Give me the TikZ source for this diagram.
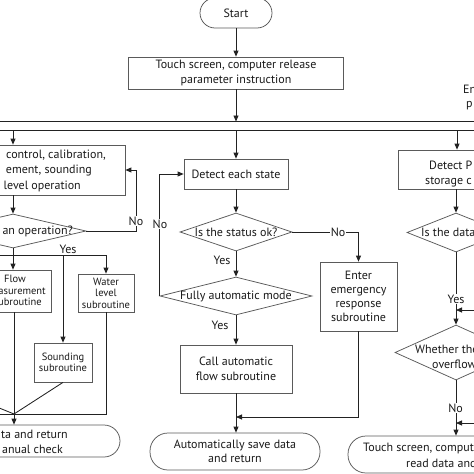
\documentclass[tikz,border=0pt]{standalone}
\usepackage{fontspec}
\setmainfont{PT Sans}
\usetikzlibrary{arrows.meta,shapes.geometric}
\definecolor{boxc}{HTML}{5A5A5A}
\definecolor{linec}{HTML}{222222}
\definecolor{txtc}{HTML}{1A1A1A}
\begin{document}
\begin{tikzpicture}[x=1pt,y=-1pt,
  every node/.style={text=txtc},
  box/.style={draw=boxc,line width=0.75pt,fill=white,align=center,inner sep=0pt},
  term/.style={box,rounded corners=#1},
  dia/.style={diamond,draw=boxc,line width=0.75pt,fill=white,inner sep=0pt},
  txt/.style={inner sep=0pt,font=\fontsize{12}{15.5}\selectfont},
  mtxt/.style={inner sep=0pt,font=\fontsize{12}{14}\selectfont},
  stxt/.style={inner sep=0pt,font=\fontsize{10.5}{11.5}\selectfont},
  lab/.style={fill=white,inner sep=1pt,font=\fontsize{12}{14}\selectfont},
  con/.style={draw=linec,line width=0.85pt},
  arr/.style={con,-{Triangle[length=6pt,width=5pt]}}]
\useasboundingbox (0,0) rectangle (474,474);
\clip (0,0) rectangle (474,474);
% top
\node[term=15,minimum width=72pt,minimum height=30pt,txt] (start) at (236,13) {Start};
\node[box,minimum width=215pt,minimum height=32pt,txt] (t1) at (236,73) {Touch screen, computer release\\parameter instruction};
\coordinate (bus1) at (236,121.5);
\draw[con] (0,121.5) coordinate (busl) -- (474,121.5) coordinate (busr);
\draw[con] (0,130) coordinate (bus2l) -- (474,130) coordinate (bus2r);
\draw[arr] (start) -- (t1);
\draw[arr] (t1) -- (bus1);
\node[txt,anchor=west] (en) at (463,89) {En};
\node[txt,anchor=west] (pp) at (466,106) {p};
\coordinate (b1) at (13,130);
\coordinate (b2) at (236,130);
\coordinate (b3) at (457,130);
% left column
\node[box,minimum width=185pt,minimum height=50pt] (lb) at (32.5,170) {};
\node[txt,anchor=east] (lbt1) at (106,155) {control, calibration,};
\node[txt,anchor=east] (lbt2) at (92,171) {ement, sounding};
\node[txt,anchor=east] (lbt3) at (81,186) {level operation};
\node[dia,minimum width=146pt,minimum height=34pt] (ld) at (13,231) {};
\node[txt,anchor=east] (ldt) at (73,231) {an operation?};
\draw[arr] (b1) -- (b1 |- lb.north);
\draw[arr] (ld.north |- lb.south) -- (ld.north);
\draw[arr] (ld.east) -- ++(50,0) |- (lb.east);
\node[lab] (no1) at (136,221) {No};
\node[txt] (yes1) at (68,249) {Yes};
\coordinate (s0) at (13,255);
\coordinate (s1) at (63,255);
\coordinate (s2) at (106,255);
\draw[con] (ld.south) -- (s0);
\draw[con] (0,255) coordinate (sl) -- (s2);
\node[box,minimum width=76pt,minimum height=42pt] (fb) at (13,291) {};
\node[stxt] (fbt1) at (15,279) {Flow};
\node[stxt,anchor=east] (fbt2) at (46,291) {asurement};
\node[stxt,anchor=east] (fbt3) at (42,302) {ubroutine};
\node[box,minimum width=56pt,minimum height=38pt,stxt] (wb) at (106,293) {Water\\level\\subroutine};
\node[box,minimum width=58pt,minimum height=39pt,stxt] (sb) at (63,362.5) {Sounding\\subroutine};
\draw[arr] (s0) -- (fb.north);
\draw[arr] (s2) -- (wb.north);
\draw[arr] (s1) -- (sb.north);
\node[term=16,minimum width=180pt,minimum height=32pt] (lt) at (30,441) {};
\node[txt,anchor=east] (ltt1) at (68,434) {ta and return};
\node[txt,anchor=east] (ltt2) at (63,449) {anual check};
\coordinate (m1) at (14,414);
\draw[con] (fb.south -| m1) -- (m1);
\draw[con] (wb.south) |- (0,414) coordinate (ml);
\draw[con] (sb.south) -- (m1);
\draw[con] (-13,403) coordinate (dl) -- (m1);
\draw[arr] (m1) -- (m1 |- lt.north);
% centre column
\node[box,minimum width=104pt,minimum height=30pt,txt] (ds) at (236,174) {Detect each state};
\node[dia,minimum width=112pt,minimum height=38pt] (sd) at (236,232) {};
\node[txt] (sdt) at (236,232) {Is the status ok?};
\node[dia,minimum width=152pt,minimum height=38pt] (fa) at (236,296) {};
\node[txt] (fat) at (236,296) {Fully automatic mode};
\node[box,minimum width=112pt,minimum height=48pt,txt] (ca) at (236,369) {Call automatic\\flow subroutine};
\node[term=18,minimum width=170pt,minimum height=37pt,mtxt] (ct) at (235,451.5) {Automatically save data\\and return};
\node[box,minimum width=77pt,minimum height=69pt,mtxt] (em) at (358.5,296.5) {Enter\\emergency\\response\\subroutine};
\draw[arr] (b2) -- (ds.north);
\draw[arr] (ds) -- (sd);
\draw[arr] (sd) -- (fa);
\draw[arr] (fa) -- (ca);
\draw[arr] (ca) -- (ca.south |- ct.north);
\draw[arr] (sd.east) -| (em.north);
\node[lab] (no2) at (338,232) {No};
\draw[arr] (fa.west) |- (ds.west);
\node[lab] (no3) at (160,224) {No};
\node[txt] (yes2) at (222,260) {Yes};
\node[txt] (yes3) at (220,325) {Yes};
\coordinate (m2) at (236,417);
\draw[arr] (em.south) |- (m2);
% right column
\node[box,minimum width=152pt,minimum height=39pt] (rb) at (474,169.5) {};
\node[txt,anchor=west] (rbt1) at (429,165) {Detect P};
\node[txt,anchor=west] (rbt2) at (425,182) {storage c};
\node[dia,minimum width=98pt,minimum height=39pt] (rd) at (456,232.5) {};
\node[txt,anchor=west] (rdt) at (421,232) {Is the data};
\node[dia,minimum width=122pt,minimum height=55pt] (wd) at (456,352.5) {};
\node[txt,anchor=west] (wdt1) at (415,349) {Whether the};
\node[txt,anchor=west] (wdt2) at (432,364) {overflow};
\node[term=18,minimum width=252pt,minimum height=37pt] (rt) at (474,454.5) {};
\node[txt,anchor=west] (rtt1) at (363,448) {Touch screen, compute};
\node[txt,anchor=west] (rtt2) at (406,463) {read data and};
\draw[arr] (b3) -- (b3 |- rb.north);
\draw[arr] (rd.north |- rb.south) -- (rd.north);
\draw[arr] (rd.south) -- (wd.north);
\node[lab] (yes4) at (456,299) {Yes};
\coordinate (r1) at (474,310);
\draw[arr] (r1) -- (r1 -| rd.south);
\draw[arr] (wd.south) -- (rt.north -| wd.south);
\node[lab] (no4) at (455.5,408) {No};
\coordinate (r2) at (474,423);
\draw[arr] (r2) -- (r2 -| wd.south);
\end{tikzpicture}
\end{document}
